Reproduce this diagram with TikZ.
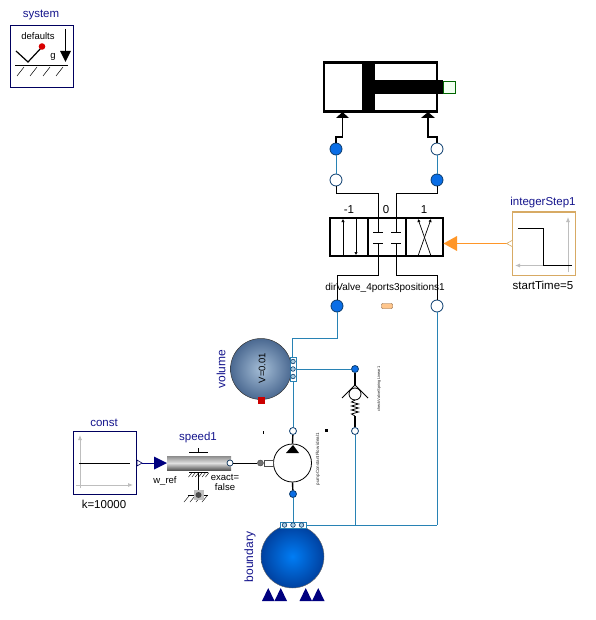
\documentclass[tikz,border=0pt]{standalone}
\usepackage{fontspec}
\setmainfont{Liberation Sans}
\usepackage{xcolor}
\usetikzlibrary{positioning, arrows.meta}
\definecolor{titleblue}{RGB}{20,20,140}
\definecolor{pipeblue}{RGB}{40,130,180}
\definecolor{portblue}{RGB}{10,110,230}
\definecolor{portring}{RGB}{10,60,110}
\definecolor{navyport}{RGB}{0,0,127}
\definecolor{stepgold}{RGB}{215,170,100}
\definecolor{signalorange}{RGB}{255,150,40}
\definecolor{axisgrey}{RGB}{190,190,190}
\definecolor{volumelight}{RGB}{165,190,215}
\definecolor{volumedark}{RGB}{75,105,145}
\definecolor{boundlight}{RGB}{0,125,245}
\definecolor{bounddark}{RGB}{0,65,160}
\tikzset{
  title/.style={text=titleblue, font=\fontsize{11.5}{12}\selectfont, inner sep=0pt},
  plain/.style={font=\fontsize{11.5}{12}\selectfont, inner sep=0pt},
  label9/.style={font=\fontsize{9.5}{10}\selectfont, inner sep=0pt},
  label4/.style={font=\fontsize{4.5}{5}\selectfont, inner sep=0pt, text=black!85, rotate=90},
  block/.style={draw=navyport!75!black, fill=white, minimum width=63pt, minimum height=63pt, inner sep=0pt, line width=.8pt},
  portfull/.style={circle, draw=portring, fill=portblue, line width=.8pt, minimum size=12pt, inner sep=0pt},
  portopen/.style={circle, draw=portring, fill=white, line width=.8pt, minimum size=12pt, inner sep=0pt},
  dotfull/.style={portfull, minimum size=7pt},
  dotopen/.style={portopen, minimum size=7pt},
  pipe/.style={draw=pipeblue, line width=.8pt},
  link/.style={draw=black, line width=.7pt},
  rod/.style={draw=black, line width=1.4pt},
  axis/.style={draw=axisgrey, line width=.8pt, -{Latex[length=5pt,width=4pt]}}
}
\begin{document}
\begin{tikzpicture}[x=1pt, y=-1pt]
  \useasboundingbox (0,0) rectangle (595,620);

  % system
  \node (system) [block, minimum height=62pt] at (41.5,56) {};
  \node (systemname) [title] at (41,15) {system};
  \node (defaults) [label9] at (38,36) {defaults};
  \node (gravity) [label9] at (53,57) {g};
  \draw[line width=.8pt] (15,65) -- (68,65);
  \foreach \i in {0,1,2,3} \draw[line width=.5pt] (24+\i*13,67) -- (17+\i*13,76);
  \draw[line width=1.2pt] (16,51) -- (28,62) -- (42,47);
  \fill[red!85!black] (42,46.5) circle (3.3);
  \draw[line width=.9pt] (65.5,29) -- (65.5,52);
  \fill (60,51) -- (71,51) -- (65.5,62) -- cycle;

  % cylinder
  \node (cylinder) [draw, line width=2.6pt, minimum width=113pt, minimum height=49pt, inner sep=0pt] at (380.5,87) {};
  \fill (362,62) rectangle (375,112);
  \fill (375,80) rectangle (443,94);
  \node (flange) [draw=green!40!black, fill=green!6, line width=.6pt, minimum size=12pt, inner sep=0pt] at (449.5,87) {};
  \fill (336,118) -- (349,118) -- (342.5,112) -- cycle;
  \fill (421,118) -- (435,118) -- (428,112) -- cycle;

  % valve
  \node (valve) [draw, line width=1.6pt, minimum width=113pt, minimum height=38pt, inner sep=0pt] at (386.5,237) {};
  \draw[line width=1.4pt] (368,218) -- (368,256) (406,218) -- (406,256);
  \node (neg) [plain] at (349,210) {-1};
  \node (mid) [plain] at (386,210) {0};
  \node (pos) [plain] at (424,210) {1};
  \draw[line width=.7pt, -{Latex[length=3pt,width=3.5pt]}] (343,256) -- (343,219);
  \draw[line width=.7pt, -{Latex[length=3pt,width=3.5pt]}] (356,219) -- (356,255);
  \draw[line width=.7pt, -{Latex[length=3pt,width=3.5pt]}] (431,256) -- (418,219);
  \draw[line width=.7pt, -{Latex[length=3pt,width=3.5pt]}] (418,256) -- (431,219);
  \foreach \x in {378,396} {
    \draw[line width=.7pt] (\x-5,232) -- (\x+5,232) (\x-5,243) -- (\x+5,243);
  }
  \node (valvename) [label9, font=\fontsize{10}{10}\selectfont] at (385,288) {dirValve\_4ports3positions1};
  \node (valvemark) [draw=brown!70!black, fill=orange!45, rounded corners=1pt, line width=.4pt, minimum width=11pt, minimum height=5pt, inner sep=0pt] at (387,306) {};

  % ports above and below the valve
  \node (cylA) [portfull] at (336,149) {};
  \node (cylB) [portopen] at (437,149) {};
  \node (portA) [portopen] at (336,180) {};
  \node (portB) [portfull] at (437,180) {};
  \node (portP) [portfull] at (337,306) {};
  \node (portT) [portopen] at (437,306) {};
  \coordinate (cylinA) at (342.5,118);
  \coordinate (cylinB) at (428,118);
  \draw[rod] (cylinA) -- (342.5,137) -| (cylA);
  \draw[rod] (cylinB) -- (428,137) -| (cylB);
  \draw[pipe] (cylA) -- (portA);
  \draw[pipe] (cylB) -- (portB);
  \coordinate (valveA) at (378,232);
  \coordinate (valveB) at (396,232);
  \coordinate (valveP) at (378,243);
  \coordinate (valveT) at (396,243);
  \draw[link] (portA) |- (valveA |- 0,193) -- (valveA);
  \draw[link] (portB) |- (valveB |- 0,193) -- (valveB);
  \draw[link] (valveP) -- (378,275) -| (portP);
  \draw[link] (valveT) -- (396,275) -| (portT);

  % integerStep1
  \node (step1) [block, draw=stepgold, line width=1pt] at (543.5,243.5) {};
  \node (stepname) [title] at (543,203) {integerStep1};
  \node (steptime) [plain] at (543,285) {startTime=5};
  \draw[axis] (568,272) -- (568,217);
  \draw[axis] (572,265.5) -- (515,265.5);
  \draw[line width=.9pt] (518,228) -- (543.5,228) -- (543.5,265.5) -- (572,265.5);
  \coordinate (valvein) at (457,243.5);
  \fill[signalorange] (valvein) ++(0,-7.5) -- (443.5,243.5) -- (457,251) -- cycle;
  \draw[draw=signalorange, line width=.8pt] (step1.west) -- (valvein);
  \fill[white] (512,240.5) -- (506.5,243.5) -- (512,246.5) -- cycle;
  \draw[stepgold, line width=.6pt] (512,240.5) -- (506.5,243.5) -- (512,246.5);

  % volume
  \node (volume) [circle, draw=black!80, line width=.5pt, inner color=volumelight, outer color=volumedark, minimum size=61pt, inner sep=0pt] at (261,369) {};
  \node (volumeV) [label9, rotate=90] at (262,368) {V=0.01};
  \node (volumename) [title, rotate=90, font=\fontsize{12}{12}\selectfont] at (221,369) {volume};
  \fill[red!80!black] (257.5,396.5) rectangle (264.5,403.5);
  \node (volports) [draw=pipeblue, fill=white, line width=.6pt, minimum width=6pt, minimum height=24pt, inner sep=0pt] at (293,369) {};
  \foreach \y in {361.5,369,376.5} \draw[draw=portring, fill=pipeblue!40, line width=.6pt] (293,\y) circle (2.3);
  \draw[pipe] (portP) -- (337,338) -- (292.5,338) -- (volports.north -| 292.5,0);

  % check valve
  \node (checkin) [dotfull] at (355,369) {};
  \node (checkout) [dotopen] at (355,431) {};
  \node (checkball) [circle, draw=black, fill=white, line width=.8pt, minimum size=12pt, inner sep=0pt] at (355,394) {};
  \node (checkname) [label4, font=\fontsize{4}{5}\selectfont] at (379,389) {checkValveSpringLinear1};
  \draw[pipe] (volports) -- (checkin);
  \draw[rod] (checkin) -- (355,385) (355,416) -- (checkout);
  \draw[line width=.9pt] (342,398) -- (355,385) -- (368,398);
  \draw[line width=.8pt] (355,400) -- (351.5,402) -- (358.5,404) -- (351.5,406) -- (358.5,408) -- (351.5,410) -- (358.5,412) -- (351.5,414) -- (355,416);

  % pump
  \node (pump) [circle, draw=black, fill=white, line width=.8pt, minimum size=38pt, inner sep=0pt] at (292.5,463) {};
  \node (pumpin) [dotopen] at (293,431) {};
  \node (pumpout) [dotfull] at (293,494) {};
  \node (pumpname) [label4] at (318,459) {pumpConstantFlow ideal1};
  \draw[pipe] (volports.south -| pumpin) -- (pumpin);
  \draw[rod] (pumpin) -- (pump.north);
  \draw[rod] (pump.south) -- (pumpout);
  \fill (286,453) -- (299,453) -- (293,445) -- cycle;
  \node (pumpshaft) [draw=black!70, fill=white, line width=.5pt, minimum width=9pt, minimum height=6pt, inner sep=0pt, anchor=east] at (pump.west) {};
  \node (pumpflange) [circle, fill=black!55, draw=black!75, line width=.4pt, minimum size=6pt, inner sep=0pt, left=0pt of pumpshaft] {};
  \fill (262.5,430.5) rectangle +(1.5,3);
  \fill (325,428.5) rectangle +(3,3);

  % const
  \node (const) [block] at (105,462.5) {};
  \node (constname) [title] at (104,423) {const};
  \node (constk) [plain] at (104,504) {k=10000};
  \draw[axis] (80,488) -- (80,435);
  \draw[axis] (76,485) -- (133,485);
  \draw[line width=.9pt] (79,463) -- (130,463);
  \coordinate (constout) at (142,463);
  \draw[draw=navyport, line width=.8pt] (constout) -- (155,463);
  \draw[draw=navyport!75!black, fill=white, line width=.6pt] (137,460) -- (142,463) -- (137,466) -- cycle;
  \fill[navyport] (154,456.5) -- (167,463) -- (154,469.5) -- cycle;

  % speed1
  \node (speed1) [rectangle, top color=black!45, bottom color=black!65, middle color=black!12, minimum width=64pt, minimum height=14pt, inner sep=0pt] at (199,463) {};
  \node (speedname) [title] at (198,438) {speed1};
  \node (speedref) [label9] at (165,481) {w\_ref};
  \node (speedexact) [label9, align=center] at (225,482) {exact=\\false};
  \node (speedout) [circle, draw=portring!80!black, fill=white, line width=.7pt, minimum size=6pt, inner sep=0pt] at (230,463) {};
  \draw[link] (speedout) -- (pumpflange);
  \draw[line width=.7pt] (189,452.5) -- (208,452.5) (198.5,448) -- (198.5,452.5);
  \draw[line width=.7pt] (189,472) -- (208,472);
  \foreach \i in {0,...,5} \draw[line width=.4pt] (192+\i*3.4,472.5) -- (188.5+\i*3.4,477);
  \draw[line width=.6pt] (188,495.5) -- (208,495.5);
  \foreach \i in {0,1,2,3} \draw[line width=.4pt] (189+\i*6,496) -- (184+\i*6,502);
  \node (speedsupport) [fill=black!25, minimum size=10pt, inner sep=0pt] at (198.5,495) {};
  \fill[black!70] (speedsupport) circle (3);
  \draw[line width=.7pt] (198.5,472) -- (speedsupport);

  % boundary
  \node (boundary) [circle, inner color=boundlight, outer color=bounddark, draw=black!60, line width=.4pt, minimum size=63pt, inner sep=0pt] at (292.5,556.5) {};
  \node (boundaryname) [title, rotate=90, font=\fontsize{12}{12}\selectfont] at (250,557) {boundary};
  \node (boundports) [draw=pipeblue, fill=white, line width=.6pt, minimum width=26pt, minimum height=6pt, inner sep=0pt] at (293,525) {};
  \foreach \x in {284.5,293,301.5} \draw[draw=portring, fill=pipeblue!40, line width=.6pt] (\x,525) circle (2.3);
  \foreach \x in {262,274.5,299.5,312} \fill[navyport] (\x,601) -- (\x+12.5,601) -- (\x+6.25,588) -- cycle;
  \draw[pipe] (pumpout) -- (boundports.north -| pumpout);
  \draw[pipe] (boundports) -- (437,525);
  \draw[pipe] (checkout) -- (355,525);
  \draw[pipe] (portT) -- (437,525);
\end{tikzpicture}
\end{document}
